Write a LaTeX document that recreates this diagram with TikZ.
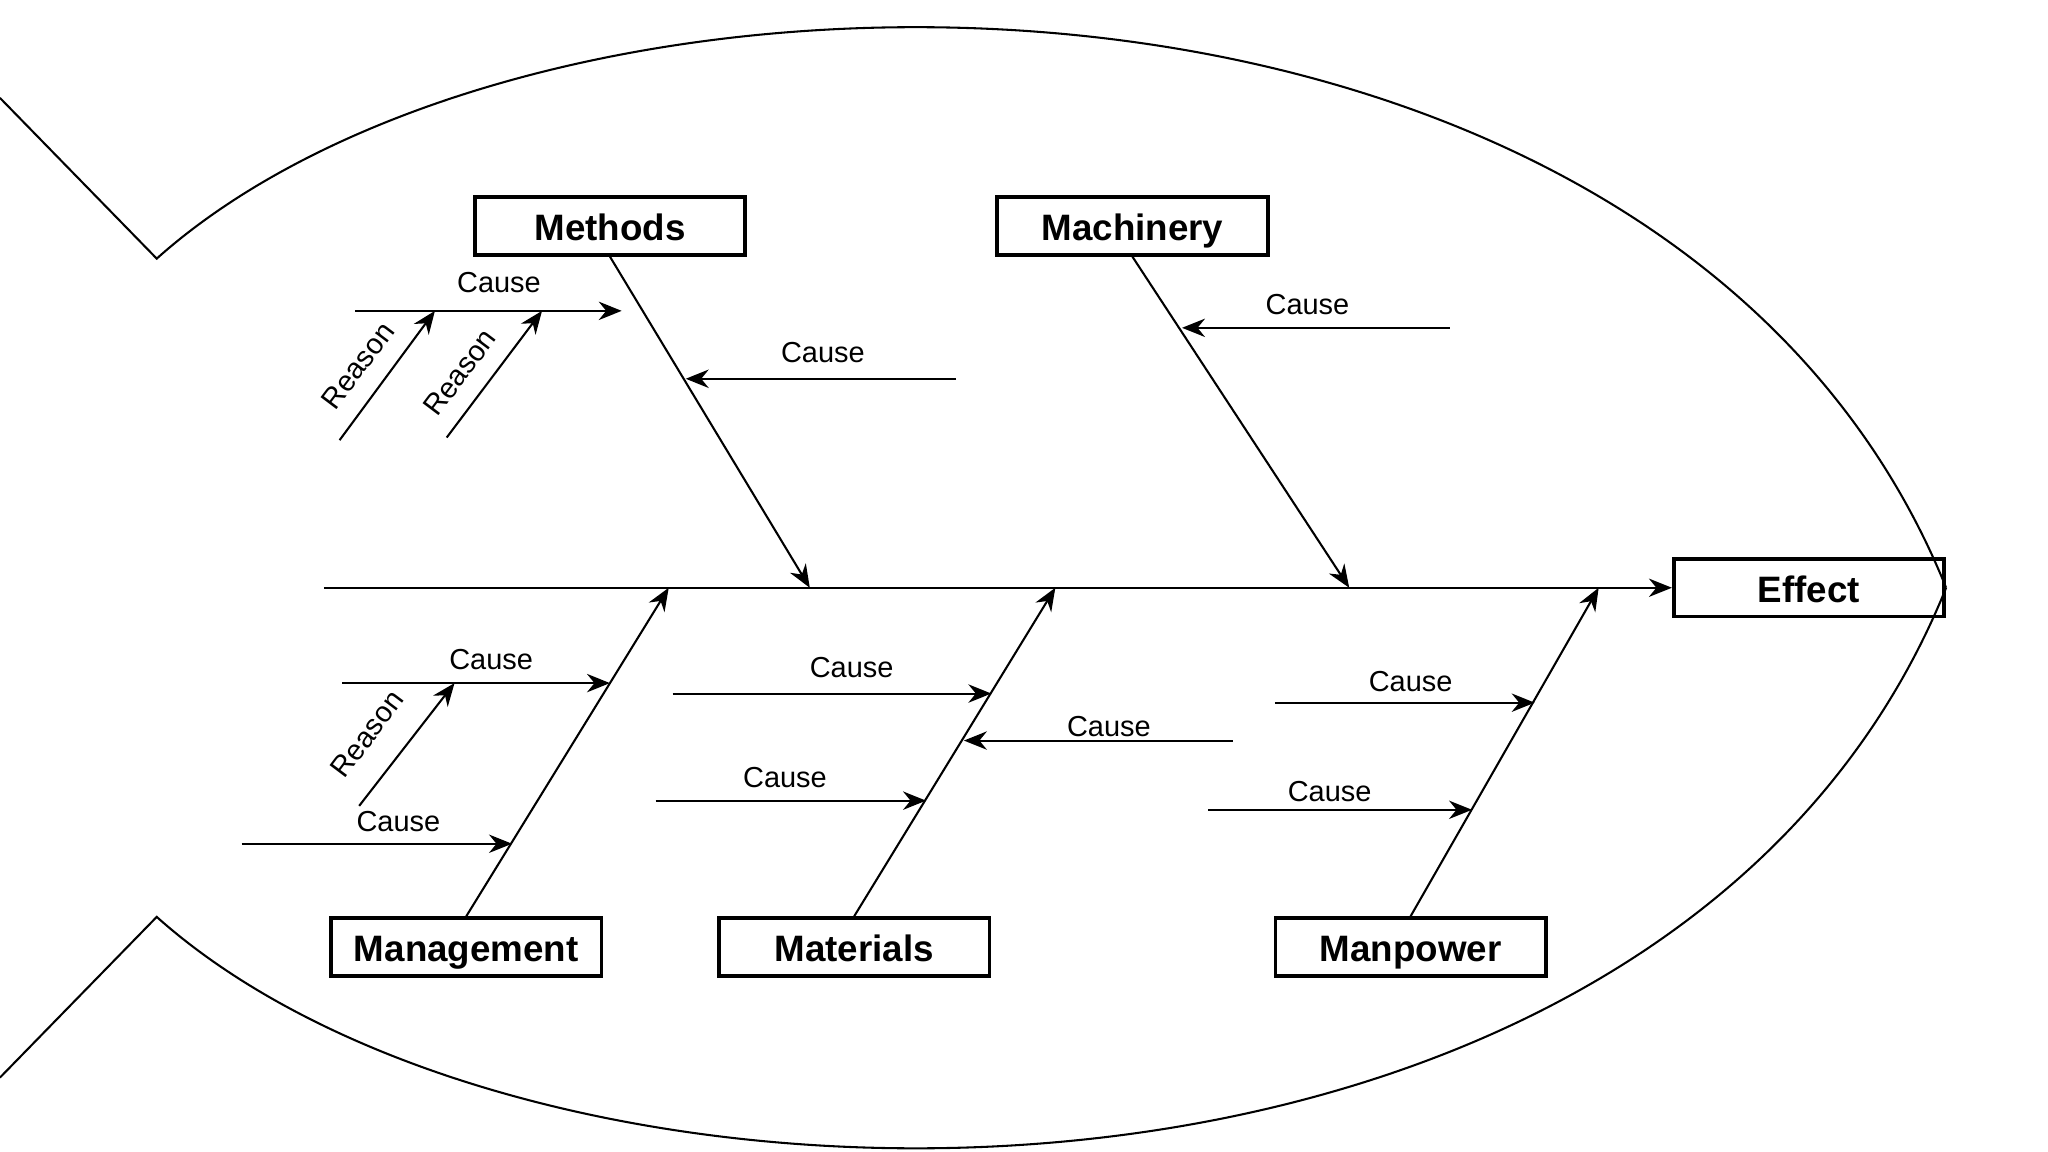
\documentclass[tikz,border=0pt]{standalone}
\usepackage{fontspec}
\setmainfont{Liberation Sans}
\usetikzlibrary{arrows.meta}
\begin{document}
\begin{tikzpicture}[x=0.01cm, y=-0.01cm, >={Stealth[length=5pt,width=4pt]},
	every box/.style={draw, thick, minimum width=2.07cm, minimum height=0.43cm, text height=1.6ex, text depth=0.4ex, inner sep=1pt, font=\fontsize{8}{10}\selectfont\bfseries},
	every label/.style={font=\fontsize{6.3}{8}\selectfont, inner sep=1pt},
	line width=0.45pt]

	\useasboundingbox (0,0) rectangle (1568,882);

	% fish outline
	\draw (0,75) -- (120,198) .. controls (420,-70) and (1280,-70) .. (1490,450);
	\draw (0,825) -- (120,702) .. controls (420,970) and (1280,970) .. (1490,450);

	% boxes
	\foreach \n/\t/\x/\y in {methods/Methods/467/173, machinery/Machinery/867/173,
		management/Management/357/725, materials/Materials/654/725, manpower/Manpower/1080/725}
		\node [every box] (\n) at (\x,\y) {\t};
	\node [every box] (effect) at (1385,450) {Effect};

	% spine
	\coordinate (tail) at (248,450);
	\draw [->] (tail) -- (effect);

	% bones
	\foreach \n/\x in {methods/620, machinery/1033, management/512, materials/808, manpower/1224}
		\coordinate (\n-end) at (\x,450);
	\foreach \n in {methods, machinery}
		\draw [->] (\n.south) -- (\n-end);
	\foreach \n in {management, materials, manpower}
		\draw [->] (\n.north) -- (\n-end);

	% causes
	\foreach \a/\ay/\b/\by/\lx/\ly [count=\i] in {
		272/238/476/238/382/216, 732/290/525/290/630/270, 1110/251/905/251/1001/233,
		262/523/467/523/376/505, 185/646/392/646/305/629, 515/531/759/531/652/511,
		502/613/709/613/601/595, 944/567/738/567/849/556, 976/538/1175/538/1080/522,
		925/620/1127/620/1018/606}
	{
		\coordinate (cause-\i-a) at (\a,\ay);
		\coordinate (cause-\i-b) at (\b,\by);
		\draw [->] (cause-\i-a) -- (cause-\i-b);
		\node [every label] (cause-\i) at (\lx,\ly) {Cause};
	}

	% reasons
	\foreach \a/\ay/\b/\by/\lx/\ly [count=\i] in {
		260/337/333/238/274/280, 342/335/415/238/352/285, 275/617/348/523/281/562}
	{
		\coordinate (reason-\i-a) at (\a,\ay);
		\coordinate (reason-\i-b) at (\b,\by);
		\draw [->] (reason-\i-a) -- (reason-\i-b);
		\node [every label, rotate=53] (reason-\i) at (\lx,\ly) {Reason};
	}

\end{tikzpicture}
\end{document}
